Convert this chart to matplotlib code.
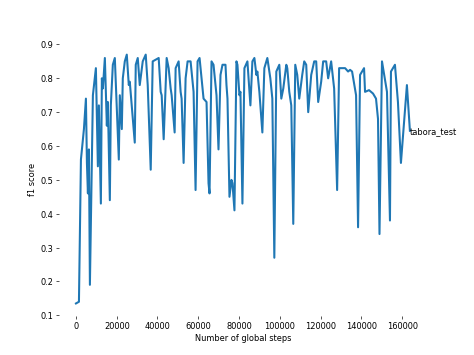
import matplotlib
matplotlib.use("Agg")
import matplotlib.pyplot as plt
from matplotlib.ticker import MultipleLocator
import numpy as np

# f1 score vs global steps (tabora_test)
steps = np.array([0, 1467, 2445, 3912, 4890, 5379, 5868, 6357, 6846, 8313,
                  9780, 10758, 11247, 12225, 12714, 13203, 14181, 15159, 15648, 16626,
                  17115, 18093, 19071, 21027, 21516, 22494, 22983, 23961, 24939, 25917,
                  26406, 28851, 29340, 30318, 31296, 32763, 34230, 35208, 36675, 37653,
                  40587, 41565, 42054, 43032, 44499, 45477, 46455, 46944, 48411, 48900,
                  50367, 51345, 51834, 52812, 53790, 54768, 56235, 57702, 58680, 59658,
                  60636, 61614, 62592, 64059, 65037, 65526, 66504, 67482, 68949, 69927,
                  70905, 71883, 73350, 73839, 74328, 75306, 76284, 76773, 77751, 78729,
                  79218, 80196, 80685, 81663, 82641, 84108, 85086, 85575, 86553, 87531,
                  88509, 88998, 89976, 91443, 92421, 93888, 95355, 96333, 97311, 98289,
                  99756, 100734, 101712, 103179, 103668, 104646, 105624, 106602, 107580, 108558,
                  109536, 111003, 111981, 112959, 113937, 115404, 116871, 117849, 118827, 120294,
                  121272, 122739, 123717, 125184, 126651, 128118, 129096, 132030, 133497, 134475,
                  135453, 137409, 138387, 139365, 141321, 141810, 143766, 145722, 147189, 148167,
                  148900, 150123, 152568, 154035, 154524, 156480, 157947, 159414, 162348, 163815])
f1 = np.array([0.135, 0.14, 0.56, 0.65, 0.74, 0.55, 0.46, 0.59, 0.19, 0.75,
               0.83, 0.54, 0.72, 0.43, 0.80, 0.77, 0.86, 0.66, 0.73, 0.44,
               0.72, 0.84, 0.86, 0.56, 0.75, 0.65, 0.80, 0.85, 0.87, 0.78,
               0.79, 0.61, 0.84, 0.86, 0.78, 0.85, 0.87, 0.78, 0.53, 0.85,
               0.86, 0.76, 0.75, 0.62, 0.86, 0.83, 0.77, 0.75, 0.64, 0.83,
               0.85, 0.76, 0.74, 0.55, 0.80, 0.85, 0.85, 0.76, 0.47, 0.85,
               0.86, 0.80, 0.74, 0.73, 0.49, 0.46, 0.85, 0.84, 0.75, 0.59,
               0.81, 0.84, 0.84, 0.78, 0.74, 0.45, 0.50, 0.49, 0.41, 0.85,
               0.84, 0.75, 0.76, 0.43, 0.83, 0.85, 0.76, 0.72, 0.85, 0.86,
               0.81, 0.82, 0.76, 0.64, 0.83, 0.86, 0.80, 0.74, 0.27, 0.82,
               0.84, 0.74, 0.77, 0.84, 0.83, 0.76, 0.72, 0.37, 0.84, 0.81,
               0.74, 0.81, 0.85, 0.84, 0.70, 0.81, 0.85, 0.85, 0.73, 0.79,
               0.85, 0.85, 0.80, 0.85, 0.77, 0.47, 0.83, 0.83, 0.82, 0.825,
               0.82, 0.75, 0.36, 0.81, 0.83, 0.76, 0.765, 0.755, 0.74, 0.68,
               0.34, 0.85, 0.76, 0.38, 0.82, 0.84, 0.73, 0.55, 0.78, 0.645])

fig = plt.figure(figsize=(8, 6), dpi=59.25)
plt.plot(steps, f1, linewidth=2.5)
plt.text(steps[-1], f1[-1], "tabora_test", va="center")
plt.xlabel("Number of global steps")
plt.ylabel("f1 score")
ax = plt.gca()
ax.xaxis.set_major_locator(MultipleLocator(20000))
for s in ax.spines.values():
    s.set_visible(False)
plt.savefig("out.png")
